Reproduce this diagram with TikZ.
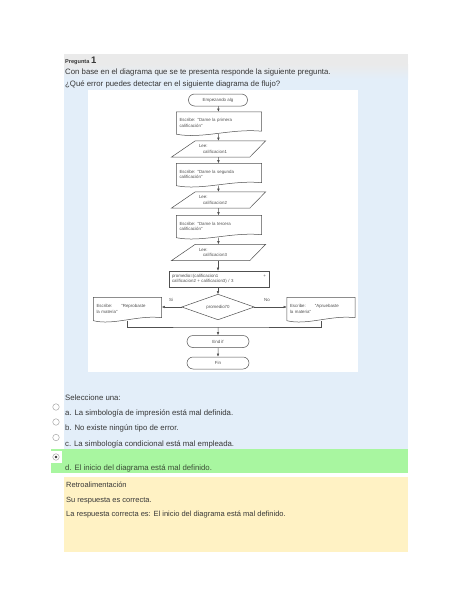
\documentclass[tikz,border=0pt]{standalone}
\usepackage{fontspec}
\setmainfont{Liberation Sans}
\usetikzlibrary{shapes.misc,arrows.meta,calc}
\definecolor{qblue}{RGB}{227,238,249}
\definecolor{qgray}{RGB}{234,234,234}
\definecolor{qgreen}{RGB}{168,246,160}
\definecolor{qyellow}{RGB}{255,242,196}
\definecolor{qtext}{RGB}{55,55,55}
\definecolor{qdark}{RGB}{60,78,55}
\definecolor{fline}{RGB}{80,80,80}
\tikzset{
  qtxt/.style={anchor=base west, inner sep=0pt, text=qtext, font=\fontsize{7.8}{9}\selectfont},
  ftxt/.style={font=\fontsize{4.4}{5.6}\selectfont, text=fline},
  fl/.style={draw=fline, line width=0.5pt},
  arr/.style={fl, -{Latex[length=3.2pt,width=2.6pt]}},
  term/.style={rounded rectangle, fl, ftxt, inner sep=0pt, minimum width=59pt, minimum height=12pt},
  docn/.style={ftxt, align=left, inner sep=3pt, text width=79pt, minimum height=22pt},
  sdocn/.style={ftxt, align=left, inner sep=3pt, text width=62pt, minimum height=23pt},
  parn/.style={ftxt, align=left, inner sep=0pt, text width=56pt, minimum width=77pt, minimum height=16pt},
  procn/.style={fl, ftxt, align=left, inner sep=3pt, text width=94pt, minimum height=15pt},
  dian/.style={ftxt, inner sep=0pt, minimum width=72pt, minimum height=25pt},
  radio/.style={circle, draw=gray!70, fill=white, line width=0.5pt, inner sep=0pt, minimum size=6.5pt},
}
\newcommand\mydocshape[1]{%
  \draw[fl] (#1.north west) -- (#1.north east) -- ($(#1.south east)+(0,-3)$)
    .. controls ($(#1.south west)!0.65!(#1.south east)+(0,-6)$) and ($(#1.south west)!0.3!(#1.south east)+(0,5)$) .. (#1.south west) -- cycle;}
\newcommand\myparshape[1]{%
  \draw[fl] ($(#1.north west)+(16,0)$) -- ($(#1.north east)+(9,0)$) -- ($(#1.south east)+(-7,0)$) -- ($(#1.south west)+(-8,0)$) -- cycle;}
\newcommand\mydiashape[1]{%
  \draw[fl] (#1.north) -- (#1.east) -- (#1.south) -- (#1.west) -- cycle;}
\begin{document}
\begin{tikzpicture}[x=1pt,y=-1pt]
\useasboundingbox (0,0) rectangle (474,613);
\fill[white] (0,0) rectangle (474,613);
% question panel
\fill[qblue] (64,54) rectangle (408,449);
\fill[qgray] (64,54) rectangle (408,64);
\shade[top color=qgray, bottom color=qblue] (64,64) rectangle (408,79);
\node[qtxt, font=\bfseries\fontsize{5.6}{6}\selectfont] (pq) at (65,63) {Pregunta \fontsize{9.5}{10}\selectfont 1};
\node[qtxt] (q1) at (65,74.5) {Con base en el diagrama que se te presenta responde la siguiente pregunta.};
\node[qtxt] (q2) at (65,86.5) {¿Qué error puedes detectar en el siguiente diagrama de flujo?};
% diagram area
\fill[white] (88,90) rectangle (358,372);
% flowchart
\node[term] (T1) at (218,100) {Empezando alg};
\node[docn] (D1) at (219,123) {Escribe: "Dame la primera\\calificación"};
\node[parn] (P1) at (218,149) {\hspace*{9pt}Lee:\\\hspace*{13pt}calificacion1};
\node[docn] (D2) at (219,174.5) {Escribe: "Dame la segunda\\calificación"};
\node[parn] (P2) at (218,200) {\hspace*{9pt}Lee:\\\hspace*{13pt}calificacion2};
\node[docn] (D3) at (219,226.5) {Escribe: "Dame la tercera\\calificación"};
\node[parn] (P3) at (218,252.5) {\hspace*{9pt}Lee:\\\hspace*{13pt}calificacion3};
\node[procn] (PR) at (219,279) {promedio=(calificacion1\hfill+\hspace*{6pt}\\calificacion2 + calificacion3) / 3};
\node[dian] (DI) at (218,307) {promedio70};
\node[sdocn] (LD) at (127.5,309) {Escribe:\hspace{9pt}"Reprobaste\\la materia"};
\node[sdocn] (RD) at (321,309) {Escribe:\hspace{9pt}"Apruebaste\\la materia"};
\node[term, minimum width=62pt, minimum height=12pt] (EI) at (218,341.5) {End if};
\node[term, minimum width=62pt, minimum height=12pt] (FN) at (218,363) {Fin};
\mydocshape{D1}\mydocshape{D2}\mydocshape{D3}
\mydocshape{LD}\mydocshape{RD}
\myparshape{P1}\myparshape{P2}\myparshape{P3}
\mydiashape{DI}
\node[ftxt, anchor=south] (si) at (171,305) {Si};
\node[ftxt, anchor=south] (no) at (267,305) {No};
\draw[arr] (T1) -- (D1);
\draw[arr] (D1) -- (P1);
\draw[arr] (P1) -- (D2);
\draw[arr] (D2) -- (P2);
\draw[arr] (P2) -- (D3);
\draw[arr] (D3) -- (P3);
\draw[arr] (P3.south) -- (P3.south |- PR.north);
\draw[arr] (DI.north |- PR.south) -- (DI.north);
\draw[arr] (DI.west) -- (LD.east |- DI.west);
\draw[arr] (DI.east) -- (RD.west |- DI.east);
\coordinate (J) at (218,327);
\draw[fl] (LD.south) |- (J) -| (RD.south);
\draw[arr] (J) -- (EI);
\draw[arr] (EI) -- (FN);
% answers
\node[qtxt] (sel) at (65,400) {Seleccione una:};
\fill[qgreen] (51,449) rectangle (408,473);
\fill[white] (51,451) rectangle (62,463);
\node[radio] (ra) at (56,407) {};
\node[radio] (rb) at (56,422) {};
\node[radio] (rc) at (56,437.5) {};
\node[radio] (rd) at (56,457) {};
\fill[black!80] (rd) circle (1.3pt);
\node[qtxt] (oa) at (65,415) {a. La simbología de impresión está mal definida.};
\node[qtxt] (ob) at (65,430) {b. No existe ningún tipo de error.};
\node[qtxt] (oc) at (65,446) {c. La simbología condicional está mal empleada.};
\node[qtxt, text=qdark] (od) at (65,470.5) {d. El inicio del diagrama está mal definido.};
% feedback
\fill[qyellow] (64,477) rectangle (408,552);
\node[qtxt, font=\fontsize{7.5}{9}\selectfont] (fb1) at (66,487) {Retroalimentación};
\node[qtxt, font=\fontsize{7.5}{9}\selectfont] (fb2) at (66,502) {Su respuesta es correcta.};
\node[qtxt, font=\fontsize{7.5}{9}\selectfont] (fb3) at (66,516) {La respuesta correcta es: El inicio del diagrama está mal definido.};
\end{tikzpicture}
\end{document}
